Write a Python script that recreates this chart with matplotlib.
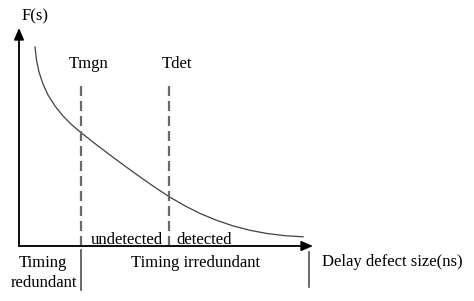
import matplotlib
matplotlib.use("Agg")
import matplotlib.pyplot as plt

plt.rcParams['font.family'] = ['Liberation Serif', 'DejaVu Serif']
plt.rcParams['lines.scale_dashes'] = False

# Data (arbitrary units)
delay = [1.6, 1.75, 2.0, 2.4, 2.9, 3.6, 4.4, 5.3, 6.2, 7.6, 9.1, 10.6, 12.1,
         13.6, 15.0, 16.6, 18.1, 19.7, 21.4, 23.1, 24.8, 26.6, 28.4]
fs = [19.9, 18.6, 17.4, 16.2, 15.1, 14.0, 13.0, 12.1, 11.34, 10.24, 9.1, 7.99,
      6.91, 5.86, 4.94, 4.01, 3.26, 2.59, 2.01, 1.57, 1.25, 1.03, 0.92]
thresholds = [6.15, 15.0]
threshold_labels = ["Tmgn", "Tdet"]
region_labels = ["undetected", "detected"]
x_max = 29.4
y_max = 21.8
dash_top = 16.4

W, H = 474, 301
fig = plt.figure(figsize=(W / 100, H / 100), dpi=100)
ax = fig.add_axes([19 / W, 55 / H, 294 / W, 218 / H])
ax.set_xlim(0, x_max)
ax.set_ylim(0, y_max)
ax.axis('off')

axis_color = '#505050'
# axes with arrows
ax.annotate('', xy=(x_max, 0), xytext=(0, 0),
            arrowprops=dict(arrowstyle='-|>,head_length=0.7,head_width=0.3',
                            color='black', lw=1.2, shrinkA=0, shrinkB=0),
            annotation_clip=False)
ax.annotate('', xy=(0, y_max), xytext=(0, 0),
            arrowprops=dict(arrowstyle='-|>,head_length=0.7,head_width=0.3',
                            color='black', lw=1.2, shrinkA=0, shrinkB=0),
            annotation_clip=False)
ax.plot([0, x_max - 0.8], [0, 0], color=axis_color, lw=1.2, clip_on=False)
ax.plot([0, 0], [0, y_max - 0.8], color=axis_color, lw=1.2, clip_on=False)

# curve
ax.plot(delay, fs, color='#404040', lw=0.9, clip_on=False,
        solid_joinstyle='round')

# dashed threshold lines
for t, lab in zip(thresholds, threshold_labels):
    ax.plot([t, t], [0, dash_top], color='#6a6a6a', lw=1.6,
            dashes=(7.2, 3.6), clip_on=False)
    ax.text(t + 0.85, 17.8, lab, ha='center', va='baseline', fontsize=12)

# region labels above x-axis
ax.text(10.75, 0.15, region_labels[0], ha='center', va='baseline', fontsize=12)
ax.text(18.5, 0.15, region_labels[1], ha='center', va='baseline', fontsize=12)

# separators below axis
ax.plot([thresholds[0], thresholds[0]], [-0.4, -4.4], color=axis_color,
        lw=1.2, clip_on=False)
ax.plot([29.0, 29.0], [-0.6, -4.1], color=axis_color, lw=1.2, clip_on=False)

ax.text(2.4, -2.1, "Timing", ha='center', va='baseline', fontsize=12)
ax.text(2.45, -4.1, "redundant", ha='center', va='baseline', fontsize=12)
ax.text(17.7, -2.1, "Timing irredundant", ha='center', va='baseline', fontsize=12)
ax.text(30.3, -2.0, "Delay defect size(ns)", ha='left', va='baseline', fontsize=12)
ax.text(1.6, 23.0, "F(s)", ha='center', va='center', fontsize=12)

fig.savefig("out.png", dpi=100)
